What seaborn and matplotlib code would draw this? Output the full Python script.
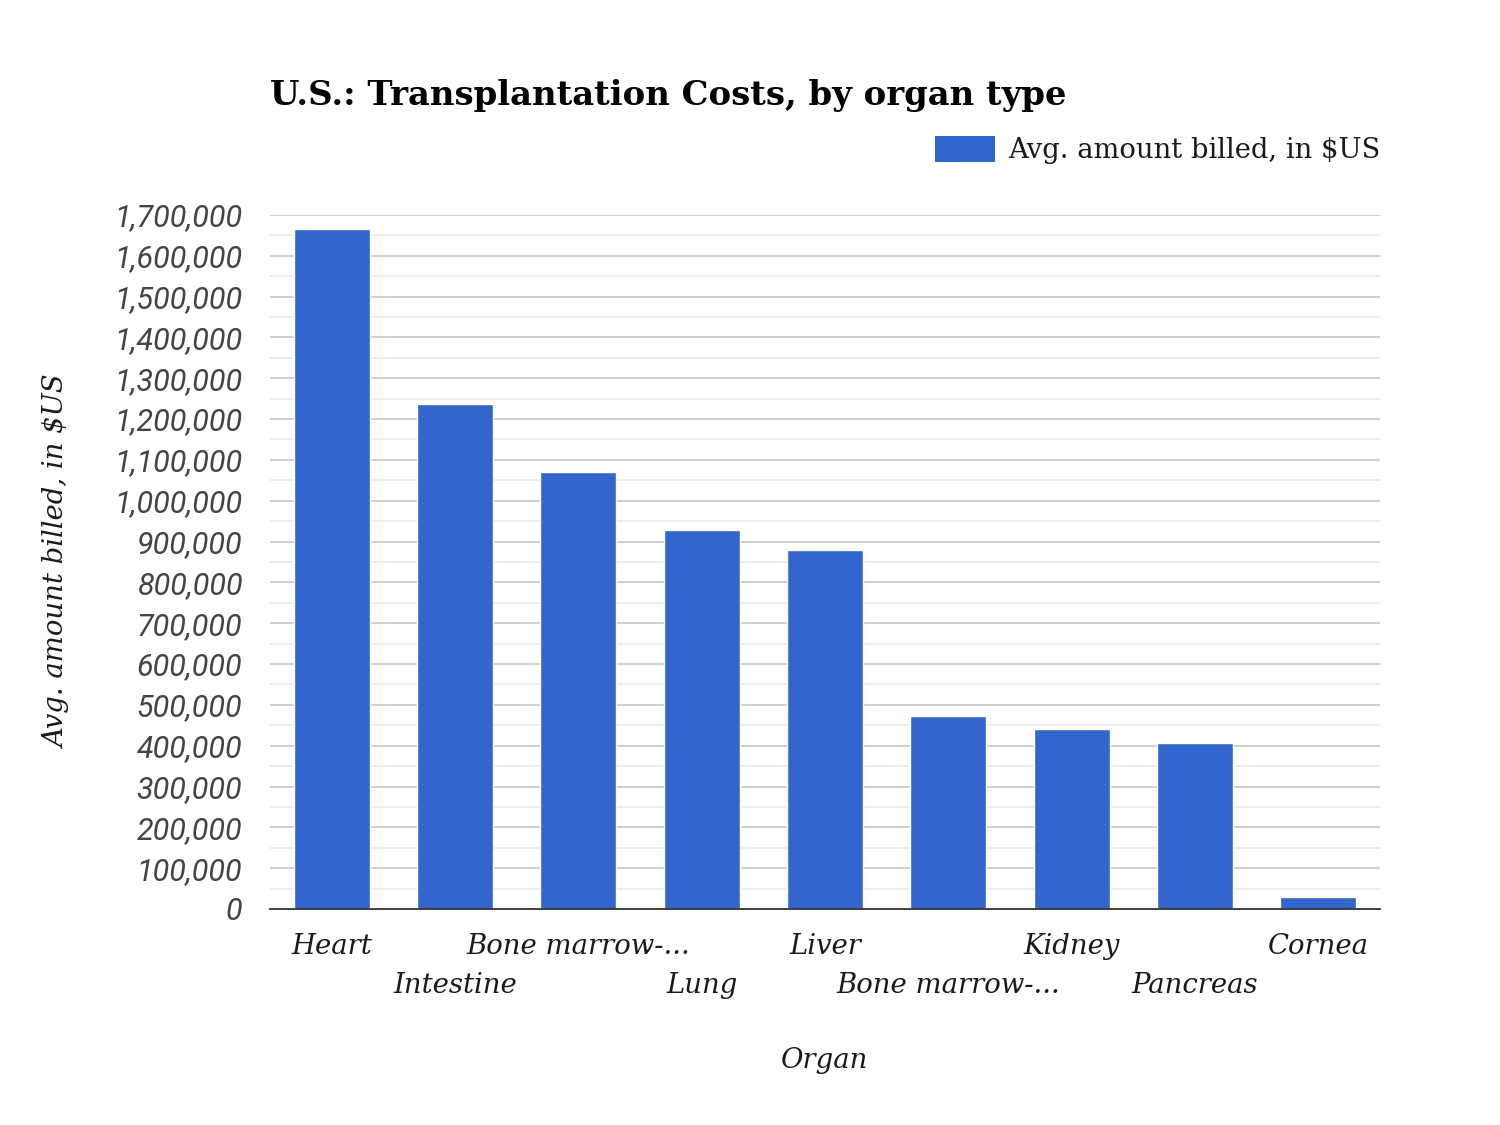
import seaborn as sns
import matplotlib.pyplot as plt
import matplotlib.transforms as mtransforms
import pandas as pd
from matplotlib.patches import Patch
from matplotlib.ticker import MultipleLocator, FuncFormatter

# data
organs = ['Heart', 'Intestine', 'Bone marrow-allogeneic', 'Lung', 'Liver',
          'Bone marrow-autologous', 'Kidney', 'Pancreas', 'Cornea']
tick_names = ['Heart', 'Intestine', 'Bone marrow-...', 'Lung', 'Liver',
              'Bone marrow-...', 'Kidney', 'Pancreas', 'Cornea']
billed = [1664800, 1237500, 1071000, 927000, 878400,
          471500, 441500, 407000, 29500]

df = pd.DataFrame({'Organ': organs, 'Billed': billed})

sns.set_theme(style='white')
plt.rcParams['font.family'] = ['DejaVu Serif']

fig = plt.figure(figsize=(15, 11.25), dpi=100)
ax = fig.add_axes([0.18, 0.192, 0.74, 0.617])

sns.barplot(data=df, x='Organ', y='Billed', color='#3366cc', width=0.616,
            saturation=1, ax=ax, zorder=3)

ax.set_ylim(0, 1700000)
ax.set_xlim(-0.5, len(organs) - 0.5)
ax.yaxis.set_major_locator(MultipleLocator(100000))
ax.yaxis.set_minor_locator(MultipleLocator(50000))
ax.yaxis.set_major_formatter(FuncFormatter(lambda v, p: f'{int(v):,}'))
ax.grid(which='major', axis='y', color='#cccccc', linewidth=1.3, zorder=0)
ax.grid(which='minor', axis='y', color='#ebebeb', linewidth=1.3, zorder=0)
ax.set_axisbelow(True)

for s in ['left', 'right', 'top']:
    ax.spines[s].set_visible(False)
ax.spines['bottom'].set_color('#333333')
ax.spines['bottom'].set_linewidth(1.3)
ax.spines['bottom'].set_zorder(4)

ax.tick_params(axis='both', which='both', length=0)
ax.tick_params(axis='y', pad=20)
ax.tick_params(axis='x', pad=17)
for lbl in ax.get_yticklabels():
    lbl.set_family(['Roboto', 'DejaVu Sans'])
    lbl.set_style('italic')
    lbl.set_fontsize(22)
    lbl.set_color('#444444')

ax.set_xticks(range(len(organs)))
ax.set_xticklabels(tick_names, fontsize=19.8, style='italic', color='#1a1a1a')
# staggered labels: every second one goes one row lower
shift = mtransforms.ScaledTranslation(0, -39 / 100, fig.dpi_scale_trans)
for i, lbl in enumerate(ax.get_xticklabels()):
    if i % 2 == 1:
        lbl.set_transform(lbl.get_transform() + shift)

ax.set_xlabel('Organ', fontsize=19.8, style='italic', color='#1a1a1a')
ax.xaxis.set_label_coords(0.5, -(1060 - 909) / 694, transform=ax.transAxes)
ax.xaxis.label.set_va('center')
ax.set_ylabel('Avg. amount billed, in $US', fontsize=19.8, style='italic',
              color='#1a1a1a')
ax.yaxis.set_label_coords(-(270 - 58) / 1110, 0.5, transform=ax.transAxes)
ax.yaxis.label.set_va('center')

fig.text(0.18, 1 - 95 / 1125, 'U.S.: Transplantation Costs, by organ type',
         fontsize=24.4, fontweight='bold', color='#000000', ha='left', va='center')

handle = Patch(facecolor='#3366cc', edgecolor='none')
fig.legend([handle], ['Avg. amount billed, in $US'], loc='center right',
           bbox_to_anchor=(0.92, 1 - 150 / 1125), frameon=False, fontsize=19.7,
           handlelength=2.2, handleheight=1.1, handletextpad=0.45,
           labelcolor='#1a1a1a', borderpad=0, borderaxespad=0)

fig.savefig('out.png', dpi=100, facecolor='white')
